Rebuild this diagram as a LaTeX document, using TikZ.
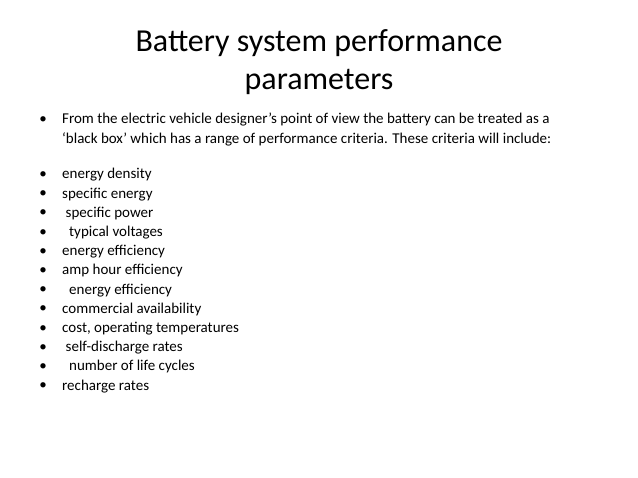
\documentclass[tikz,border=0pt]{standalone}
\usepackage{fontspec}
\setmainfont{Carlito}
\begin{document}
\begin{tikzpicture}[x=1pt,y=-1pt,
  txt/.style={anchor=west,inner sep=0pt,font=\fontsize{15}{18}\selectfont},
  bul/.style={anchor=center,inner sep=0pt,font=\fontsize{15}{18}\selectfont}]
\useasboundingbox (0,0) rectangle (638,478);
\node[font=\fontsize{32}{38}\selectfont,align=center] (title) at (319,62) {Battery system performance\\parameters};
\node[bul] (b0) at (43,120) {•};
\node[txt] (t0a) at (62,120) {From the electric vehicle designer’s point of view the battery can be treated as a};
\node[txt] (t0b) at (62,139) {‘black box’ which has a range of performance criteria. These criteria will include:};
\foreach \i/\s/\t in {0/0/energy density,1/0/specific energy,2/1/specific power,3/2/typical voltages,4/0/energy efficiency,5/0/amp hour efficiency,6/2/energy efficiency,7/0/commercial availability,8/0/{cost, operating temperatures},9/1/self-discharge rates,10/2/number of life cycles,11/0/recharge rates}{
  \node[bul] (b\i) at (43,175+19.2*\i) {•};
  \node[txt] (t\i) at (62+3.5*\s,175+19.2*\i) {\t};
}
\end{tikzpicture}
\end{document}
